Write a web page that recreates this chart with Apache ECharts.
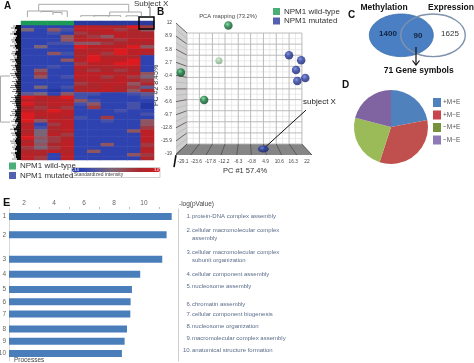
<!DOCTYPE html>
<html><head><meta charset="utf-8">
<style>html,body{margin:0;padding:0;background:#fff}#c{width:474px;height:363px;filter:blur(0.35px)}</style>
<script src="https://cdn.jsdelivr.net/npm/echarts@6/dist/echarts.min.js"></script>
</head><body><div id="c"></div>
<script>
// ---------- Panel A ----------
const heatRows = [
"1111887796","4152888675","1121678877","1115765877","1115887688","1122556777",
"1411988895","1111878988","1152786987","1111797771","1115898891","1111688991",
"1121877881","1511767671","1611888785","1512886864","1111787876","1111678857",
"1412778763","1101788757","3415221123","9879211112","8788521111","9788251120",
"7676161120","8798111211","9888111112","9787216111","9588112115","7168111115",
"8278111116","7478111158","8486111118","9567111118","7468111118","8578115116",
"6468111117","7787151118","8718111156","8618111117"];
const sampleStatus = ["wt","wt","wt","wt","mut","mut","mut","mut","mut","mut"];
const heatColors = ['#2337a5','#2e42b0','#4550a8','#615a90','#7a6478','#8f5560','#9f3a42','#ac262c','#bc2027','#dc1b21'];
const dendroTop = [
  [1.33,8.1,4.3,11,12],[0.48,3.48,11,17,17],[1.5,2.4,11.5,12.5,12.5],[2.4,3.08,12.5,15,15],
  [6.67,9.05,12,16,16],[4.49,7.5,15.7,17,17],[5.5,6.6,15.6,17,17],[7.9,8.8,15.8,17,17]];
const dendroLeft = [[25.7,48.9,20.5,11,11]];
const fringeOuter = [8,10,7,9,11,6,8,10,9,7,11,8,6,9,10,8,7,11,9,6,10,8,9,7,11,10,8,6,9,7,10,11,8,9,6,7,10,8,11,9,7,6,8,10,9,11,7,8,10,6,9,8,11,7,10,9,6,8,11,10,7,9,8,6,10,8,7,9];
const fringeInner = [5,6,4,5,7,4,5,6,5,4,6,5,3,5,6,4,4,6,5,4,6,5,5,4,6,5,4,3,5,4,6,5,4,5,3,4,6,5,6,5,5,4,4,6,5,6,4,5,6,3,4,5,7,4,6,5,4,5,6,5,4,5,6,4,6,5,5,4];
// ---------- Panel B ----------
const pcaWildType = [[-10.4,11.4],[-14.3,3.1],[-30.0,0.3],[-20.4,-6.2]];
const pcaMutated = [[14.6,4.4],[19.6,3.2],[17.5,0.9],[18,-1.7],[21.3,-1.0],[4.0,-17.8]];
const pcaXTicks = [-29.1,-23.6,-17.8,-12.2,-6.3,-0.8,4.9,10.6,16.3,22];
const pcaYTicks = [12,8.9,5.8,2.7,-0.4,-3.6,-6.6,-9.7,-12.8,-15.9,-19];
// ---------- Panel C ----------
const vennCounts = ["1400","90","1625"];
// ---------- Panel D ----------
const pieNames = ["+M+E","+M\u2212E","\u2212M+E","\u2212M\u2212E"];
const pieValues = [22,33,24,21];
const pieColors = ['#4f81bd','#c0504d','#9bbb59','#8064a2'];
const pieKeyColors = ['#4f81bd','#c8444f','#76923c','#8f7ab8'];
// ---------- Panel E ----------
const processIds = ["1","2","3","4","5","6","7","8","9","10"];
const processValues = [11.85,11.51,11.22,9.75,9.2,9.11,9.09,8.87,8.71,8.53];
const processNames = [
 ["protein-DNA complex assembly"],
 ["cellular macromolecular complex","assembly"],
 ["cellular macromolecular complex","subunit organization"],
 ["cellular component assembly"],
 ["nucleosome assembly"],
 ["chromatin assembly"],
 ["cellular component biogenesis"],
 ["nucleosome organization"],
 ["macromolecular complex assembly"],
 ["anatomical structure formation"]];
const barSlots = [2,8,16,21,26,30,34,39,43,47];
const nameSlots = [2,8,15,21,25,31,34,38,42,46];
const slotCount = 50;

const font = '"Liberation Sans", Arial, sans-serif';
const chart = echarts.init(document.getElementById('c'), null, {renderer:'canvas'});

const colIdx = sampleStatus.map((_, i) => String(i));
const rowIdx = heatRows.map((_, i) => String(i));
const heatData = [];
heatRows.forEach((r, y) => r.split('').forEach((ch, x) => heatData.push([x, y, +ch])));
const statusData = sampleStatus.map((s, i) => ({value:[i,0,1], itemStyle:{color: s === 'wt' ? '#1d9a55' : '#2a3a9c'}}));

const slotsLeft = new Array(slotCount).fill('');
const slotsRight = new Array(slotCount).fill('');
const barData = new Array(slotCount).fill(null);
processIds.forEach((id, i) => {
  slotsLeft[barSlots[i]] = id;
  barData[barSlots[i]] = processValues[i];
  slotsRight[nameSlots[i]] = processNames[i]
    .map((line, k) => k === 0 ? `{${id.length>1?'m':'n'}|${id}.}{t|${line}}` : `{n| }{t|${line}}`).join('\n');
});

function gradient(stops){
  return new echarts.graphic.RadialGradient(0.4,0.35,0.62,stops.map((c,i)=>({offset:i/(stops.length-1),color:c})));
}
const greenBall = gradient(['#6fd896','#127c3d','#0a4a24']);
const paleBall = gradient(['#cfe5cb','#9cc79e','#7da985']);
const blueBall = gradient(['#6a80d8','#25389f','#172570']);

// 3D box decoration of panel B, drawn in the chart's own data space
const box = {xL:-27.45,xR:19.9,yT:9.63,yB:-16.63,fxL:-32.0,fxR:24.06,fyT:12,fyB:-19,floorY:-19.24};
const subjectLabelAnchor = [21.6,-8.6];
const xSpan = pcaXTicks[pcaXTicks.length-1]-pcaXTicks[0];
const backX = v => box.xL+(v-pcaXTicks[0])*(box.xR-box.xL)/xSpan;
const frontX = v => box.fxL+(v-pcaXTicks[0])*(box.fxR-box.fxL)/xSpan;
const backY = v => box.yB+(v+19)*(box.yT-box.yB)/31;
function pcaBox(params, api){
  const c = (x,y) => api.coord([x,y]);
  const kids = [];
  const poly = (pts, fill) => kids.push({type:'polygon',shape:{points:pts.map(p=>c(p[0],p[1]))},style:{fill}});
  const seg = (a,b,stroke,lw) => { const p=c(a[0],a[1]),q=c(b[0],b[1]);
    kids.push({type:'line',shape:{x1:p[0],y1:p[1],x2:q[0],y2:q[1]},style:{stroke,lineWidth:lw}}); };
  poly([[box.fxL,box.fyT],[box.xL,box.yT],[box.xL,box.yB],[box.fxL,box.fyB]],'#cfcfcf');
  poly([[box.xL,box.yB],[box.xR,box.yB],[box.fxR,box.floorY],[box.fxL,box.floorY]],'#868686');
  pcaYTicks.forEach((v,i) => {
    if(i<pcaYTicks.length-1){ const m=(v+pcaYTicks[i+1])/2;
      seg([box.xL,backY(m)],[box.xR,backY(m)],'#e4e4e4',0.8);
      seg([box.fxL,m],[box.xL,backY(m)],'#b8b8b8',0.8); }
  });
  pcaXTicks.forEach((v,i) => {
    if(i<pcaXTicks.length-1){ const m=(v+pcaXTicks[i+1])/2;
      seg([backX(m),box.yT],[backX(m),box.yB],'#e4e4e4',0.8); }
  });
  pcaYTicks.forEach(v => {
    seg([box.xL,backY(v)],[box.xR,backY(v)],'#b4b4b4',0.9);
    seg([box.fxL,v],[box.xL,backY(v)],'#6f6464',1);
  });
  pcaXTicks.forEach(v => {
    seg([backX(v),box.yT],[backX(v),box.yB],'#b4b4b4',0.9);
    seg([backX(v),box.yB],[frontX(v),box.floorY],'#5a5a5a',1);
  });
  seg([box.fxL,box.floorY],[-32.8,-22.08],'#111',1.6);
  const s = pcaMutated[pcaMutated.length-1];
  seg(s,subjectLabelAnchor,'#111',1);
  return {type:'group',children:kids};
}
function dendroItem(vertical){
  return (params, api) => {
    const a=api.value(0),b=api.value(1),top=api.value(2),la=api.value(3),lb=api.value(4);
    const P = (u,v) => vertical ? api.coord([v,u]) : api.coord([u,v]);
    const points=[P(a,la),P(a,top),P(b,top),P(b,lb)];
    return {type:'polyline',shape:{points},style:{fill:'none',stroke:'#a9a9a9',lineWidth:1}};
  };
}
function label(x,y,text,size,opt){
  opt = opt||{};
  const align = opt.align||'left';
  return {type:'text',x,y,z:20,style:{text,font:`${opt.bold?'bold ':''}${size}px ${font}`,fill:opt.fill||'#222',
    align,verticalAlign:'middle',textAlign:align,textVerticalAlign:'middle'}};
}
const g = o => Object.assign({outerBoundsMode:'none'},o);

const option = {
  animation:false,
  textStyle:{fontFamily:font},
  grid:[
    g({left:21,top:25,width:133,height:135}),
    g({left:21,top:21,width:133,height:4}),
    g({left:21,top:0,width:133,height:21}),
    g({left:10,top:25,width:11,height:135}),
    g({left:10,top:25,width:11,height:135}),
    g({left:175,right:159,top:15,bottom:207}),
    g({left:9,right:296,top:209,bottom:2}),
    g({left:0,top:25,width:21,height:135})
  ],
  xAxis:[
    {gridIndex:0,type:'category',data:colIdx,show:false},
    {gridIndex:1,type:'category',data:colIdx,show:false},
    {gridIndex:2,type:'value',min:0,max:10,show:false},
    {gridIndex:3,type:'value',min:0,max:11,inverse:true,show:false},
    {gridIndex:4,type:'value',min:0,max:11,inverse:true,show:false},
    {gridIndex:5,type:'value',min:-32.4,max:25.3,name:'PC #1 57.4%',nameLocation:'middle',nameGap:11,nameMoveOverlap:false,
      nameTextStyle:{fontSize:7.5,color:'#333'},splitLine:{show:false},axisLine:{show:false},axisTick:{show:false},
      axisLabel:{customValues:pcaXTicks,fontSize:4.8,color:'#444',margin:3,showMinLabel:true,showMaxLabel:true}},
    {gridIndex:6,type:'value',position:'top',min:1,max:12.27,splitLine:{show:false},axisLine:{show:false},
      axisTick:{show:true,customValues:[3,5,7,9,11],length:2,inside:false,lineStyle:{color:'#bbb'}},
      axisLabel:{customValues:[2,4,6,8,10],fontSize:6.5,color:'#666',margin:2}},
    {gridIndex:7,type:'value',min:0,max:21,inverse:true,show:false}
  ],
  yAxis:[
    {gridIndex:0,type:'category',data:rowIdx,inverse:true,show:false},
    {gridIndex:1,type:'category',data:['s'],show:false},
    {gridIndex:2,type:'value',min:0,max:21,inverse:true,show:false},
    {gridIndex:3,type:'category',data:fringeOuter.map((_,i)=>String(i)),inverse:true,show:false},
    {gridIndex:4,type:'category',data:fringeInner.map((_,i)=>String(i)),inverse:true,show:false},
    {gridIndex:5,type:'value',min:-19.47,max:13.9,name:'PC #2 8.45%',nameLocation:'middle',nameGap:15,nameRotate:90,nameMoveOverlap:false,
      nameTextStyle:{fontSize:7,color:'#333'},splitLine:{show:false},axisLine:{show:false},axisTick:{show:false},
      axisLabel:{customValues:pcaYTicks,fontSize:4.8,color:'#444',margin:3}},
    {gridIndex:6,type:'category',data:slotsLeft,inverse:true,position:'left',
      axisLine:{show:true,lineStyle:{color:'#d8d8d8'}},axisTick:{show:false},
      axisLabel:{interval:0,fontSize:6.5,color:'#666',margin:3}},
    {gridIndex:6,type:'category',data:slotsRight,inverse:true,position:'right',
      axisLine:{show:true,lineStyle:{color:'#cfcfcf'}},axisTick:{show:false},
      axisLabel:{interval:0,margin:5,align:'left',
        rich:{n:{fontSize:6,width:5.5,padding:[0,0,0,3.5],color:'#5b6d8a',lineHeight:8,fontFamily:font},
              m:{fontSize:6,width:9,color:'#5b6d8a',lineHeight:8,fontFamily:font},
              t:{fontSize:6,color:'#5b6d8a',lineHeight:8,fontFamily:font}}}},
    {gridIndex:7,type:'value',min:0,max:68,inverse:true,show:false}
  ],
  visualMap:{type:'continuous',seriesIndex:0,min:0,max:9,orient:'horizontal',left:72,top:168,itemWidth:4,itemHeight:88,
    calculable:false,text:null,showLabel:false,hoverLink:false,inRange:{color:heatColors},textStyle:{fontSize:1,color:'rgba(0,0,0,0)'},padding:0},
  legend:[
    {left:9,top:162,orient:'vertical',itemWidth:7,itemHeight:7,itemGap:1.5,padding:0,selectedMode:false,icon:'rect',
      textStyle:{fontSize:8,color:'#333',padding:[0,0,0,-1]},
      data:[{name:'NPM1 wild-type',itemStyle:{color:'#1d9a55'}},{name:'NPM1 mutated',itemStyle:{color:'#2a3a9c'}}]},
    {left:273,top:7.5,orient:'vertical',itemWidth:7,itemHeight:7,itemGap:1.5,padding:0,selectedMode:false,icon:'rect',
      textStyle:{fontSize:8,color:'#333',padding:[0,0,0,-1]},
      data:[{name:'NPM1 wild-type',itemStyle:{color:'#1d9a55'}},{name:'NPM1 mutated',itemStyle:{color:'#2a3a9c'}}]},
    {left:433,top:98,orient:'vertical',itemWidth:8,itemHeight:9,itemGap:3.5,padding:0,selectedMode:false,icon:'rect',
      textStyle:{fontSize:6.5,color:'#555',padding:[0,0,0,-3]},
      data:pieNames.map((n,i)=>({name:n,itemStyle:{color:pieKeyColors[i]}}))}
  ],
  series:[
    {type:'heatmap',xAxisIndex:0,yAxisIndex:0,data:heatData,progressive:0,itemStyle:{borderWidth:0}},
    {type:'heatmap',xAxisIndex:1,yAxisIndex:1,data:statusData,progressive:0},
    {type:'custom',coordinateSystem:'cartesian2d',xAxisIndex:2,yAxisIndex:2,data:dendroTop,clip:false,renderItem:dendroItem(false)},
    {type:'bar',xAxisIndex:3,yAxisIndex:3,data:fringeOuter,barWidth:1,itemStyle:{color:'#8a8a8a'},silent:true},
    {type:'bar',xAxisIndex:4,yAxisIndex:4,data:fringeInner,barWidth:2.2,itemStyle:{color:'#0a0a0a'},silent:true},
    {type:'custom',coordinateSystem:'cartesian2d',xAxisIndex:5,yAxisIndex:5,data:[[0,0]],z:1,clip:false,silent:true,renderItem:pcaBox},
    {type:'scatter',name:'NPM1 wild-type',xAxisIndex:5,yAxisIndex:5,z:3,clip:false,
      data:pcaWildType.map((p,i)=>({value:p,symbolSize:i===1?7:8.5,itemStyle:{color:i===1?paleBall:greenBall}})),
      itemStyle:{color:'#1d9a55'}},
    {type:'scatter',name:'NPM1 mutated',xAxisIndex:5,yAxisIndex:5,z:3,clip:false,
      data:pcaMutated.map((p,i)=>({value:p,symbolSize:i===pcaMutated.length-1?[11,7]:8.5,itemStyle:{color:blueBall}})),
      itemStyle:{color:'#2a3a9c'}},
    {type:'bar',xAxisIndex:6,yAxisIndex:6,data:barData,barWidth:7,itemStyle:{color:'#4a7ebb'}},
    {type:'custom',coordinateSystem:'cartesian2d',xAxisIndex:7,yAxisIndex:8,data:dendroLeft,clip:false,renderItem:dendroItem(true)},
    {type:'pie',center:[391,127],radius:[0,37],startAngle:90,label:{show:false},labelLine:{show:false},silent:true,
      data:pieNames.map((n,i)=>({name:n,value:pieValues[i],itemStyle:{color:pieColors[i]}}))}
  ],
  graphic:[
    {type:'ellipse',shape:{cx:401.3,cy:35.3,rx:32,ry:21.3},z:5,style:{fill:'#4a7fc4',stroke:'#3f6ea8',lineWidth:0.8}},
    {type:'ellipse',shape:{cx:433,cy:35.3,rx:32.3,ry:21.3},z:6,style:{fill:'none',stroke:'#7f93ad',lineWidth:1.4}},
    {type:'line',shape:{x1:416,y1:47,x2:416,y2:65},z:7,style:{stroke:'#111',lineWidth:1.2}},
    {type:'polyline',shape:{points:[[412.5,60.5],[416,65],[419.5,60.5]]},z:7,style:{fill:'none',stroke:'#111',lineWidth:1.2}},
    {type:'rect',shape:{x:139,y:17,width:15,height:12},z:10,style:{fill:'none',stroke:'#000',lineWidth:1.5}},
    {type:'line',shape:{x1:150,y1:7,x2:150,y2:17},z:10,style:{stroke:'#555',lineWidth:0.8}},
    {type:'rect',shape:{x:71.5,y:167.5,width:88.5,height:10},z:0,style:{fill:'#fff',stroke:'#c4c4c4',lineWidth:0.8}},
    label(4,6,'A',10,{bold:true,fill:'#111'}),
    label(157,12.5,'B',10,{bold:true,fill:'#111'}),
    label(348,15,'C',10,{bold:true,fill:'#111'}),
    label(342,85.5,'D',10,{bold:true,fill:'#111'}),
    label(3,203,'E',11,{bold:true,fill:'#111'}),
    label(134,3.5,'Subject X',8,{fill:'#333'}),
    label(74,175,'Standardized intensity',5,{fill:'#444'}),
    label(73,170,'-3.0',3.5,{fill:'#fff'}),
    label(159,170,'3.0',3.5,{fill:'#fff',align:'right'}),
    label(228,16,'PCA mapping (73.2%)',5.8,{fill:'#444',align:'center'}),
    label(303,102,'subject X',8,{fill:'#222'}),
    label(384,8,'Methylation',8.5,{bold:true,fill:'#111',align:'center'}),
    label(451,8,'Expression',8.5,{bold:true,fill:'#111',align:'center'}),
    label(388,34,vennCounts[0],8,{bold:true,fill:'#10243f',align:'center'}),
    label(418,36,vennCounts[1],8,{bold:true,fill:'#10243f',align:'center'}),
    label(450,34,vennCounts[2],8,{fill:'#333',align:'center'}),
    label(418.7,70.5,'71 Gene symbols',8.5,{bold:true,fill:'#111',align:'center'}),
    label(179,204.5,'-log(pValue)',6.5,{fill:'#444'}),
    label(14,360,'Processes',6.5,{fill:'#444'})
  ]
};
chart.setOption(option);
</script></body></html>
